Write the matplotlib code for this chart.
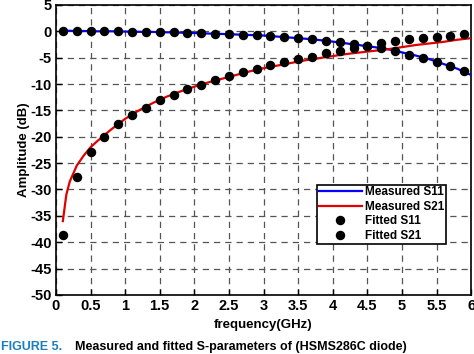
import numpy as np
import matplotlib.pyplot as plt

plt.rcParams['font.family'] = ['Liberation Sans', 'DejaVu Sans']
plt.rcParams['font.weight'] = 'bold'
plt.rcParams['axes.unicode_minus'] = False

# measured curves
f_meas = [0.1, 0.15, 0.2, 0.3, 0.4, 0.5, 0.6, 0.7, 0.8, 0.9, 1.0, 1.2, 1.4, 1.6, 1.8,
          2.0, 2.2, 2.4, 2.6, 2.8, 3.0, 3.2, 3.4, 3.6, 3.8, 4.0, 4.2, 4.4, 4.6, 4.8,
          5.0, 5.2, 5.4, 5.6, 5.8, 6.0]
s11_meas = [0.1, 0.1, 0.1, 0.05, 0.05, 0.05, 0.0, 0.0, 0.0, 0.0, -0.05, -0.1, -0.12, -0.18, -0.25,
            -0.32, -0.42, -0.5, -0.6, -0.7, -0.8, -1.0, -1.2, -1.4, -1.65, -1.95, -2.3, -2.65, -3.0, -3.4,
            -4.0, -4.6, -5.3, -6.2, -7.1, -8.3]
s21_meas = [-36.0, -31.0, -28.5, -25.5, -23.6, -22.0, -20.8, -19.7, -18.6, -17.6, -16.6, -15.0, -13.6, -12.4, -11.4,
            -10.5, -9.7, -9.0, -8.3, -7.6, -7.0, -6.5, -6.0, -5.5, -5.1, -4.7, -4.3, -4.0, -3.7, -3.4,
            -3.0, -2.6, -2.3, -2.0, -1.6, -1.3]

# fitted points
f_fit = [0.1, 0.3, 0.5, 0.7, 0.9, 1.1, 1.3, 1.5, 1.7, 1.9, 2.1, 2.3, 2.5, 2.7, 2.9,
         3.1, 3.3, 3.5, 3.7, 3.9, 4.1, 4.3, 4.5, 4.7, 4.9, 5.1, 5.3, 5.5, 5.7, 5.9]
s11_fit = [0.1, 0.05, 0.05, 0.0, 0.0, -0.05, -0.1, -0.15, -0.2, -0.3, -0.35, -0.45, -0.55, -0.65, -0.75,
           -0.9, -1.1, -1.3, -1.5, -1.8, -2.1, -2.5, -2.8, -3.2, -3.7, -4.4, -5.0, -5.8, -6.6, -7.6]
s21_fit = [-38.7, -27.6, -22.8, -20.0, -17.6, -15.9, -14.5, -13.1, -12.0, -11.0, -10.1, -9.2, -8.5, -7.7, -7.1,
           -6.4, -5.8, -5.3, -4.8, -4.2, -3.7, -3.1, -2.7, -2.2, -1.8, -1.5, -1.3, -1.1, -0.8, -0.6]

fig = plt.figure(figsize=(4.74, 3.54), dpi=100)
ax = fig.add_axes([0.118, 0.167, 0.876, 0.819])

ax.plot(f_meas, s11_meas, color='#0000ff', lw=1.6, label='Measured S11', zorder=3)
ax.plot(f_meas, s21_meas, color='#e00000', lw=1.6, label='Measured S21', zorder=3)
ax.plot(f_fit, s11_fit, 'o', color='black', ms=5.8, label='Fitted S11', zorder=4)
ax.plot(f_fit, s21_fit, 'o', color='black', ms=5.8, label='Fitted S21', zorder=4)

ax.set_xlim(0, 6)
ax.set_ylim(-50, 5)
ax.set_xticks(np.arange(0, 6.01, 0.5))
ax.set_xticklabels(['0', '0.5', '1', '1.5', '2', '2.5', '3', '3.5', '4', '4.5', '5', '5.5', '6'])
ax.set_yticks(np.arange(-50, 6, 5))
ax.tick_params(direction='in', labelsize=10.5, length=4, width=1, top=False, right=False, pad=3)
for lab in ax.get_xticklabels() + ax.get_yticklabels():
    lab.set_fontweight('bold')
ax.grid(True, linestyle=(0, (5, 4)), color='#555555', lw=0.9)
for s in ax.spines.values():
    s.set_linewidth(1.2)

ax.set_xlabel('frequency(GHz)', fontsize=9.5, fontweight='bold', labelpad=4)
ax.set_ylabel('Amplitude (dB)', fontsize=9.5, fontweight='bold', labelpad=0)

leg = ax.legend(loc='lower right', bbox_to_anchor=(0.94, 0.176), fontsize=8.5, frameon=True,
                fancybox=False, edgecolor='black', framealpha=1, handlelength=3.6,
                borderpad=0.15, labelspacing=0.22, handletextpad=0.3, borderaxespad=0)
leg.get_frame().set_linewidth(1.2)
for t in leg.get_texts():
    t.set_fontweight('bold')

fig.text(0.002, 0.004, 'FIGURE 5.', color='#1a7fc1', fontsize=9, fontweight='bold', va='bottom')
fig.text(0.158, 0.004, 'Measured and fitted S-parameters of (HSMS286C diode)', color='black',
         fontsize=9, fontweight='bold', va='bottom')

fig.savefig('out.png', dpi=100)
